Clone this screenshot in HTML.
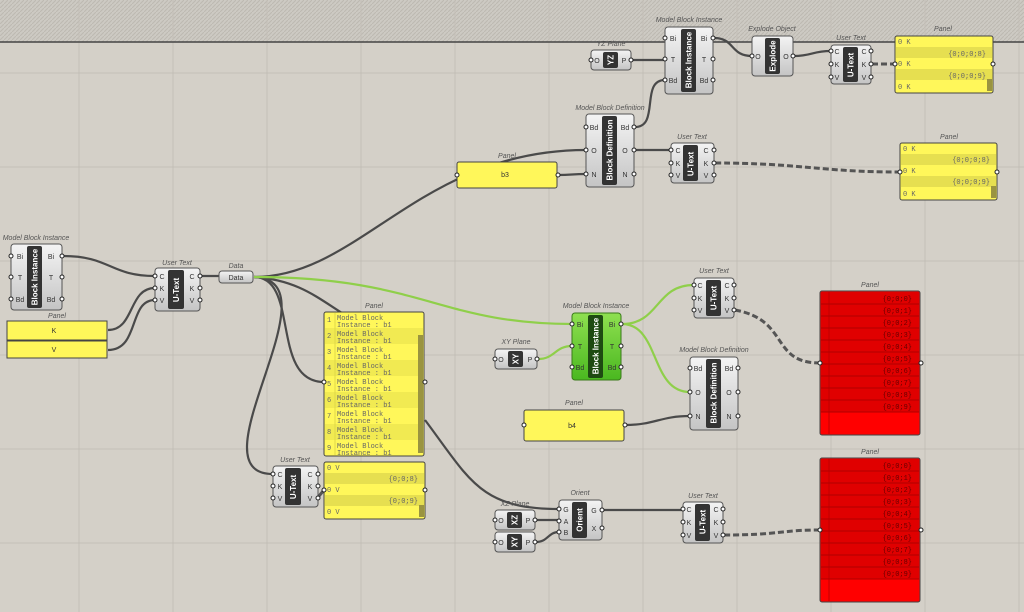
<!DOCTYPE html>
<html><head><meta charset="utf-8"><style>
html,body{margin:0;padding:0;background:#d4d0c8;}
svg{display:block;font-family:"Liberation Sans",sans-serif;}
.lb{font-size:7px;font-style:italic;fill:#555;text-anchor:middle}
.p{font-size:7px;fill:#333;text-anchor:middle}
.st{font-size:8px;font-weight:bold;fill:#fff;text-anchor:middle}
.w{fill:none;stroke:#4a4a4a;stroke-width:2.2}
.wg{fill:none;stroke:#8fcf4a;stroke-width:2.2}
.d{fill:none;stroke:#555;stroke-width:3;stroke-dasharray:6 3}
.m{font-family:"Liberation Mono",monospace;font-size:7px;fill:#666}
.r{font-family:"Liberation Mono",monospace;font-size:7px;fill:#600;text-anchor:end}
.pt{fill:#fff;stroke:#222;stroke-width:1}
</style></head><body>
<svg width="1024" height="612" viewBox="0 0 1024 612">
<defs>
<linearGradient id="g" x1="0" y1="0" x2="0" y2="1"><stop offset="0" stop-color="#f4f4f4"/><stop offset="1" stop-color="#c4c4c4"/></linearGradient>
<linearGradient id="gg" x1="0" y1="0" x2="0" y2="1"><stop offset="0" stop-color="#8fe050"/><stop offset="1" stop-color="#4ab820"/></linearGradient>
<pattern id="h" width="4" height="4" patternUnits="userSpaceOnUse"><rect width="4" height="4" fill="#cdcac3"/><path d="M0 4L4 0" stroke="#bdb9b1" stroke-width="1"/></pattern>
</defs>
<rect width="1024" height="612" fill="#d4d0c8"/>
<rect width="1024" height="42" fill="url(#h)"/>
<g stroke="#c3bfb7" stroke-width="1">
<path d="M79 0V612M173 0V612M267 0V612M361 0V612M455 0V612M549 0V612M643 0V612M737 0V612M831 0V612M925 0V612M1019 0V612"/>
<path d="M0 73H1024M0 167H1024M0 261H1024M0 355H1024M0 449H1024M0 543H1024"/>
</g>
<line x1="0" y1="42" x2="1024" y2="42" stroke="#444" stroke-width="1.5"/>

<!-- wires -->
<path class="w" d="M63 256C110 256 110 276 155 276"/>
<path class="w" d="M108 330C135 330 128 288 155 288"/>
<path class="w" d="M108 350C140 350 128 300 155 300"/>
<path class="w" d="M201 276H219"/>
<path class="w" d="M254 277C360 277 420 150 586 150"/>
<path class="w" d="M254 277C300 277 270 382 324 382"/>
<path class="w" d="M254 277C340 280 190 474 273 474"/>
<path class="w" d="M254 277C300 280 320 300 350 318"/>
<path class="wg" d="M254 277C420 277 440 324 572 324"/>
<path class="w" d="M558 175C572 175 572 174 586 174"/>
<path class="w" d="M635 127C660 127 640 80 665 80"/>
<path class="w" d="M635 150H671"/>
<path class="d" d="M715 163C800 163 820 172 900 172"/>
<path class="w" d="M632 60H665"/>
<path class="w" d="M714 38C735 38 730 56 752 56"/>
<path class="w" d="M794 56C812 56 812 51 831 51"/>
<path class="d" d="M872 64H895"/>
<path class="wg" d="M538 359C555 359 555 346 572 346"/>
<path class="wg" d="M622 324C660 324 655 285 694 285"/>
<path class="wg" d="M622 324C660 324 650 392 690 392"/>
<path class="w" d="M625 425C655 425 660 416 690 416"/>
<path class="d" d="M735 310C790 320 770 363 820 363"/>
<path class="w" d="M425 420C470 480 480 509 559 509"/>
<path class="w" d="M536 520H559"/>
<path class="w" d="M536 542C548 542 548 532 559 532"/>
<path class="w" d="M603 510H683"/>
<path class="d" d="M724 535C780 535 780 530 820 530"/>
<path class="d" d="M319 496L324 490"/>

<!-- component macro-ish: each -->
<!-- MBI left -->
<text class="lb" x="36" y="240">Model Block Instance</text>
<rect x="11" y="244" width="51" height="66" rx="3" fill="url(#g)" stroke="#555"/>
<rect x="27" y="246" width="15" height="62" rx="2" fill="#333"/>
<text class="st" transform="translate(37.5 277) rotate(-90)">Block Instance</text>
<text class="p" x="20" y="259">Bi</text><text class="p" x="20" y="280">T</text><text class="p" x="20" y="302">Bd</text>
<text class="p" x="51" y="259">Bi</text><text class="p" x="51" y="280">T</text><text class="p" x="51" y="302">Bd</text>
<g class="pt"><circle cx="11" cy="256" r="2"/><circle cx="11" cy="277" r="2"/><circle cx="11" cy="299" r="2"/><circle cx="62" cy="256" r="2"/><circle cx="62" cy="277" r="2"/><circle cx="62" cy="299" r="2"/></g>

<!-- UT1 -->
<text class="lb" x="177" y="265">User Text</text>
<rect x="155" y="268" width="45" height="43" rx="3" fill="url(#g)" stroke="#555"/>
<rect x="168" y="270" width="16" height="39" rx="2" fill="#333"/>
<text class="st" transform="translate(179 290) rotate(-90)">U-Text</text>
<text class="p" x="162" y="279">C</text><text class="p" x="162" y="291">K</text><text class="p" x="162" y="303">V</text>
<text class="p" x="192" y="279">C</text><text class="p" x="192" y="291">K</text><text class="p" x="192" y="303">V</text>
<g class="pt"><circle cx="155" cy="276" r="2"/><circle cx="155" cy="288" r="2"/><circle cx="155" cy="300" r="2"/><circle cx="200" cy="276" r="2"/><circle cx="200" cy="288" r="2"/><circle cx="200" cy="300" r="2"/></g>

<!-- Data -->
<text class="lb" x="236" y="268">Data</text>
<rect x="219" y="271" width="34" height="12" rx="3" fill="url(#g)" stroke="#555"/>
<text class="p" x="236" y="280">Data</text>

<!-- K/V panels -->
<text class="lb" x="57" y="318">Panel</text>
<rect x="7" y="321" width="100" height="19" fill="#fff75a" stroke="#444"/>
<text class="p" x="54" y="333" fill="#776">K</text>
<rect x="7" y="341" width="100" height="17" fill="#fff75a" stroke="#444"/>
<text class="p" x="54" y="352" fill="#776">V</text>

<!-- big panel -->
<text class="lb" x="374" y="308">Panel</text>
<rect x="324" y="312" width="100" height="144" rx="2" fill="#fff75a" stroke="#444"/>
<g>
<rect x="325" y="328" width="98" height="16" fill="#f1ea52"/><rect x="325" y="360" width="98" height="16" fill="#f1ea52"/><rect x="325" y="392" width="98" height="16" fill="#f1ea52"/><rect x="325" y="424" width="98" height="16" fill="#f1ea52"/>
<line x1="335" y1="313" x2="335" y2="455" stroke="#e0d848"/>
<rect x="418" y="335" width="5" height="118" fill="#9a9440"/>
</g>
<g class="m">
<text x="327" y="322">1</text><text x="337" y="320">Model Block</text><text x="337" y="327">Instance : b1</text>
<text x="327" y="338">2</text><text x="337" y="336">Model Block</text><text x="337" y="343">Instance : b1</text>
<text x="327" y="354">3</text><text x="337" y="352">Model Block</text><text x="337" y="359">Instance : b1</text>
<text x="327" y="370">4</text><text x="337" y="368">Model Block</text><text x="337" y="375">Instance : b1</text>
<text x="327" y="386">5</text><text x="337" y="384">Model Block</text><text x="337" y="391">Instance : b1</text>
<text x="327" y="402">6</text><text x="337" y="400">Model Block</text><text x="337" y="407">Instance : b1</text>
<text x="327" y="418">7</text><text x="337" y="416">Model Block</text><text x="337" y="423">Instance : b1</text>
<text x="327" y="434">8</text><text x="337" y="432">Model Block</text><text x="337" y="439">Instance : b1</text>
<text x="327" y="450">9</text><text x="337" y="448">Model Block</text><text x="337" y="455">Instance : b1</text>
</g>
<g class="pt"><circle cx="324" cy="382" r="2"/><circle cx="425" cy="382" r="2"/></g>

<!-- UT left bottom -->
<text class="lb" x="295" y="462">User Text</text>
<rect x="273" y="466" width="45" height="41" rx="3" fill="url(#g)" stroke="#555"/>
<rect x="285" y="468" width="16" height="37" rx="2" fill="#333"/>
<text class="st" transform="translate(296 487) rotate(-90)">U-Text</text>
<text class="p" x="280" y="477">C</text><text class="p" x="280" y="489">K</text><text class="p" x="280" y="501">V</text>
<text class="p" x="310" y="477">C</text><text class="p" x="310" y="489">K</text><text class="p" x="310" y="501">V</text>
<g class="pt"><circle cx="273" cy="474" r="2"/><circle cx="273" cy="486" r="2"/><circle cx="273" cy="498" r="2"/><circle cx="318" cy="474" r="2"/><circle cx="318" cy="486" r="2"/><circle cx="318" cy="498" r="2"/></g>
<!-- panel V -->
<rect x="324" y="462" width="101" height="57" rx="2" fill="#fff75a" stroke="#444"/>
<rect x="325" y="473" width="99" height="11" fill="#e6df50"/><rect x="325" y="495" width="99" height="11" fill="#e6df50"/>
<rect x="419" y="505" width="5" height="12" fill="#9a9440"/>
<g class="m"><text x="327" y="470">0 V</text><text x="418" y="481" text-anchor="end">{0;0;8}</text><text x="327" y="492">0 V</text><text x="418" y="503" text-anchor="end">{0;0;9}</text><text x="327" y="514">0 V</text></g>
<g class="pt"><circle cx="324" cy="490" r="2"/><circle cx="425" cy="490" r="2"/></g>

<!-- b3 -->
<text class="lb" x="507" y="158">Panel</text>
<rect x="457" y="162" width="100" height="26" rx="2" fill="#fff75a" stroke="#444"/>
<text class="p" x="505" y="177" fill="#776">b3</text>
<g class="pt"><circle cx="457" cy="175" r="2"/><circle cx="558" cy="175" r="2"/></g>

<!-- MBD top -->
<text class="lb" x="610" y="110">Model Block Definition</text>
<rect x="586" y="114" width="48" height="73" rx="3" fill="url(#g)" stroke="#555"/>
<rect x="602" y="116" width="15" height="69" rx="2" fill="#333"/>
<text class="st" transform="translate(612.5 150) rotate(-90)">Block Definition</text>
<text class="p" x="594" y="130">Bd</text><text class="p" x="594" y="153">O</text><text class="p" x="594" y="177">N</text>
<text class="p" x="625" y="130">Bd</text><text class="p" x="625" y="153">O</text><text class="p" x="625" y="177">N</text>
<g class="pt"><circle cx="586" cy="127" r="2"/><circle cx="586" cy="150" r="2"/><circle cx="586" cy="174" r="2"/><circle cx="634" cy="127" r="2"/><circle cx="634" cy="150" r="2"/><circle cx="634" cy="174" r="2"/></g>

<!-- UT top2 -->
<text class="lb" x="692" y="139">User Text</text>
<rect x="671" y="143" width="43" height="40" rx="3" fill="url(#g)" stroke="#555"/>
<rect x="683" y="145" width="15" height="36" rx="2" fill="#333"/>
<text class="st" transform="translate(693.5 164) rotate(-90)">U-Text</text>
<text class="p" x="678" y="153">C</text><text class="p" x="678" y="166">K</text><text class="p" x="678" y="178">V</text>
<text class="p" x="706" y="153">C</text><text class="p" x="706" y="166">K</text><text class="p" x="706" y="178">V</text>
<g class="pt"><circle cx="671" cy="150" r="2"/><circle cx="671" cy="163" r="2"/><circle cx="671" cy="175" r="2"/><circle cx="714" cy="150" r="2"/><circle cx="714" cy="163" r="2"/><circle cx="714" cy="175" r="2"/></g>

<!-- Panel top2 -->
<text class="lb" x="949" y="139">Panel</text>
<rect x="900" y="143" width="97" height="57" rx="2" fill="#fff75a" stroke="#444"/>
<rect x="901" y="154" width="95" height="11" fill="#e6df50"/><rect x="901" y="176" width="95" height="11" fill="#e6df50"/>
<rect x="991" y="186" width="5" height="12" fill="#9a9440"/>
<g class="m"><text x="903" y="151">0 K</text><text x="990" y="162" text-anchor="end">{0;0;0;8}</text><text x="903" y="173">0 K</text><text x="990" y="184" text-anchor="end">{0;0;0;9}</text><text x="903" y="196">0 K</text></g>
<g class="pt"><circle cx="900" cy="172" r="2"/><circle cx="997" cy="172" r="2"/></g>

<!-- YZ -->
<text class="lb" x="611" y="46">YZ Plane</text>
<rect x="591" y="50" width="40" height="20" rx="3" fill="url(#g)" stroke="#555"/>
<rect x="603" y="52" width="15" height="16" rx="2" fill="#333"/>
<text class="st" transform="translate(613.5 60) rotate(-90)">YZ</text>
<text class="p" x="597" y="63">O</text><text class="p" x="624" y="63">P</text>
<g class="pt"><circle cx="591" cy="60" r="2"/><circle cx="631" cy="60" r="2"/></g>

<!-- MBI top -->
<text class="lb" x="689" y="22">Model Block Instance</text>
<rect x="665" y="27" width="48" height="67" rx="3" fill="url(#g)" stroke="#555"/>
<rect x="681" y="29" width="15" height="63" rx="2" fill="#333"/>
<text class="st" transform="translate(691.5 60) rotate(-90)">Block Instance</text>
<text class="p" x="673" y="41">Bi</text><text class="p" x="673" y="62">T</text><text class="p" x="673" y="83">Bd</text>
<text class="p" x="704" y="41">Bi</text><text class="p" x="704" y="62">T</text><text class="p" x="704" y="83">Bd</text>
<g class="pt"><circle cx="665" cy="38" r="2"/><circle cx="665" cy="59" r="2"/><circle cx="665" cy="80" r="2"/><circle cx="713" cy="38" r="2"/><circle cx="713" cy="59" r="2"/><circle cx="713" cy="80" r="2"/></g>

<!-- Explode -->
<text class="lb" x="772" y="31">Explode Object</text>
<rect x="752" y="36" width="41" height="40" rx="3" fill="url(#g)" stroke="#555"/>
<rect x="765" y="38" width="15" height="36" rx="2" fill="#333"/>
<text class="st" transform="translate(775.5 56) rotate(-90)">Explode</text>
<text class="p" x="758" y="59">O</text><text class="p" x="786" y="59">O</text>
<g class="pt"><circle cx="752" cy="56" r="2"/><circle cx="793" cy="56" r="2"/></g>

<!-- UT top -->
<text class="lb" x="851" y="40">User Text</text>
<rect x="831" y="45" width="40" height="39" rx="3" fill="url(#g)" stroke="#555"/>
<rect x="843" y="47" width="15" height="35" rx="2" fill="#333"/>
<text class="st" transform="translate(853.5 65) rotate(-90)">U-Text</text>
<text class="p" x="837" y="54">C</text><text class="p" x="837" y="67">K</text><text class="p" x="837" y="80">V</text>
<text class="p" x="864" y="54">C</text><text class="p" x="864" y="67">K</text><text class="p" x="864" y="80">V</text>
<g class="pt"><circle cx="831" cy="51" r="2"/><circle cx="831" cy="64" r="2"/><circle cx="831" cy="77" r="2"/><circle cx="871" cy="51" r="2"/><circle cx="871" cy="64" r="2"/><circle cx="871" cy="77" r="2"/></g>

<!-- Panel top -->
<text class="lb" x="943" y="31">Panel</text>
<rect x="895" y="36" width="98" height="57" rx="2" fill="#fff75a" stroke="#444"/>
<rect x="896" y="47" width="96" height="11" fill="#e6df50"/><rect x="896" y="69" width="96" height="11" fill="#e6df50"/>
<rect x="987" y="79" width="5" height="12" fill="#9a9440"/>
<g class="m"><text x="898" y="44">0 K</text><text x="986" y="56" text-anchor="end">{0;0;0;8}</text><text x="898" y="66">0 K</text><text x="986" y="78" text-anchor="end">{0;0;0;9}</text><text x="898" y="89">0 K</text></g>
<g class="pt"><circle cx="895" cy="64" r="2"/><circle cx="993" cy="64" r="2"/></g>

<!-- MBI green -->
<text class="lb" x="596" y="308">Model Block Instance</text>
<rect x="572" y="313" width="49" height="67" rx="3" fill="url(#gg)" stroke="#3a7a1a"/>
<rect x="588" y="315" width="15" height="63" rx="2" fill="#1e4a12"/>
<text class="st" transform="translate(598.5 346) rotate(-90)">Block Instance</text>
<text class="p" x="580" y="327">Bi</text><text class="p" x="580" y="349">T</text><text class="p" x="580" y="370">Bd</text>
<text class="p" x="612" y="327">Bi</text><text class="p" x="612" y="349">T</text><text class="p" x="612" y="370">Bd</text>
<g class="pt"><circle cx="572" cy="324" r="2"/><circle cx="572" cy="346" r="2"/><circle cx="572" cy="367" r="2"/><circle cx="621" cy="324" r="2"/><circle cx="621" cy="346" r="2"/><circle cx="621" cy="367" r="2"/></g>

<!-- XY plane -->
<text class="lb" x="516" y="344">XY Plane</text>
<rect x="495" y="349" width="42" height="20" rx="3" fill="url(#g)" stroke="#555"/>
<rect x="508" y="351" width="15" height="16" rx="2" fill="#333"/>
<text class="st" transform="translate(518.5 359) rotate(-90)">XY</text>
<text class="p" x="501" y="362">O</text><text class="p" x="530" y="362">P</text>
<g class="pt"><circle cx="495" cy="359" r="2"/><circle cx="537" cy="359" r="2"/></g>

<!-- UT right -->
<text class="lb" x="714" y="273">User Text</text>
<rect x="694" y="278" width="40" height="40" rx="3" fill="url(#g)" stroke="#555"/>
<rect x="706" y="280" width="15" height="36" rx="2" fill="#333"/>
<text class="st" transform="translate(716.5 298) rotate(-90)">U-Text</text>
<text class="p" x="700" y="288">C</text><text class="p" x="700" y="301">K</text><text class="p" x="700" y="313">V</text>
<text class="p" x="727" y="288">C</text><text class="p" x="727" y="301">K</text><text class="p" x="727" y="313">V</text>
<g class="pt"><circle cx="694" cy="285" r="2"/><circle cx="694" cy="298" r="2"/><circle cx="694" cy="310" r="2"/><circle cx="734" cy="285" r="2"/><circle cx="734" cy="298" r="2"/><circle cx="734" cy="310" r="2"/></g>

<!-- MBD right -->
<text class="lb" x="714" y="352">Model Block Definition</text>
<rect x="690" y="357" width="48" height="73" rx="3" fill="url(#g)" stroke="#555"/>
<rect x="706" y="359" width="15" height="69" rx="2" fill="#333"/>
<text class="st" transform="translate(716.5 393) rotate(-90)">Block Definition</text>
<text class="p" x="698" y="371">Bd</text><text class="p" x="698" y="395">O</text><text class="p" x="698" y="419">N</text>
<text class="p" x="729" y="371">Bd</text><text class="p" x="729" y="395">O</text><text class="p" x="729" y="419">N</text>
<g class="pt"><circle cx="690" cy="368" r="2"/><circle cx="690" cy="392" r="2"/><circle cx="690" cy="416" r="2"/><circle cx="738" cy="368" r="2"/><circle cx="738" cy="392" r="2"/><circle cx="738" cy="416" r="2"/></g>

<!-- b4 -->
<text class="lb" x="574" y="405">Panel</text>
<rect x="524" y="410" width="100" height="31" rx="2" fill="#fff75a" stroke="#444"/>
<text class="p" x="572" y="428" fill="#776">b4</text>
<g class="pt"><circle cx="524" cy="425" r="2"/><circle cx="625" cy="425" r="2"/></g>

<!-- red panels -->
<text class="lb" x="870" y="287">Panel</text>
<rect x="820" y="291" width="100" height="144" rx="2" fill="#ff0000" stroke="#444"/>
<rect x="821" y="292" width="98" height="120" fill="#e00000"/>
<line x1="829" y1="292" x2="829" y2="434" stroke="#c00000"/>
<g stroke="#b00000"><path d="M821 304H919M821 316H919M821 328H919M821 340H919M821 352H919M821 364H919M821 376H919M821 388H919M821 400H919M821 412H919"/></g>
<g class="r"><text x="912" y="301">{0;0;0}</text><text x="912" y="313">{0;0;1}</text><text x="912" y="325">{0;0;2}</text><text x="912" y="337">{0;0;3}</text><text x="912" y="349">{0;0;4}</text><text x="912" y="361">{0;0;5}</text><text x="912" y="373">{0;0;6}</text><text x="912" y="385">{0;0;7}</text><text x="912" y="397">{0;0;8}</text><text x="912" y="409">{0;0;9}</text></g>
<g class="pt"><circle cx="820" cy="363" r="2"/><circle cx="921" cy="363" r="2"/></g>

<text class="lb" x="870" y="454">Panel</text>
<rect x="820" y="458" width="100" height="144" rx="2" fill="#ff0000" stroke="#444"/>
<rect x="821" y="459" width="98" height="120" fill="#e00000"/>
<line x1="829" y1="459" x2="829" y2="601" stroke="#c00000"/>
<g stroke="#b00000"><path d="M821 471H919M821 483H919M821 495H919M821 507H919M821 519H919M821 531H919M821 543H919M821 555H919M821 567H919M821 579H919"/></g>
<g class="r"><text x="912" y="468">{0;0;0}</text><text x="912" y="480">{0;0;1}</text><text x="912" y="492">{0;0;2}</text><text x="912" y="504">{0;0;3}</text><text x="912" y="516">{0;0;4}</text><text x="912" y="528">{0;0;5}</text><text x="912" y="540">{0;0;6}</text><text x="912" y="552">{0;0;7}</text><text x="912" y="564">{0;0;8}</text><text x="912" y="576">{0;0;9}</text></g>
<g class="pt"><circle cx="820" cy="530" r="2"/><circle cx="921" cy="530" r="2"/></g>

<!-- Orient -->
<text class="lb" x="580" y="495">Orient</text>
<rect x="559" y="500" width="43" height="40" rx="3" fill="url(#g)" stroke="#555"/>
<rect x="572" y="502" width="15" height="36" rx="2" fill="#333"/>
<text class="st" transform="translate(582.5 520) rotate(-90)">Orient</text>
<text class="p" x="566" y="512">G</text><text class="p" x="566" y="524">A</text><text class="p" x="566" y="535">B</text>
<text class="p" x="594" y="513">G</text><text class="p" x="594" y="531">X</text>
<g class="pt"><circle cx="559" cy="509" r="2"/><circle cx="559" cy="521" r="2"/><circle cx="559" cy="532" r="2"/><circle cx="602" cy="510" r="2"/><circle cx="602" cy="528" r="2"/></g>

<!-- XZ / XY2 -->
<text class="lb" x="515" y="506">XZ Plane</text>
<rect x="495" y="510" width="40" height="20" rx="3" fill="url(#g)" stroke="#555"/>
<rect x="507" y="512" width="15" height="16" rx="2" fill="#333"/>
<text class="st" transform="translate(517.5 520) rotate(-90)">XZ</text>
<text class="p" x="501" y="523">O</text><text class="p" x="528" y="523">P</text>
<g class="pt"><circle cx="495" cy="520" r="2"/><circle cx="535" cy="520" r="2"/></g>
<rect x="495" y="532" width="40" height="20" rx="3" fill="url(#g)" stroke="#555"/>
<rect x="507" y="534" width="15" height="16" rx="2" fill="#333"/>
<text class="st" transform="translate(517.5 542) rotate(-90)">XY</text>
<text class="p" x="501" y="545">O</text><text class="p" x="528" y="545">P</text>
<g class="pt"><circle cx="495" cy="542" r="2"/><circle cx="535" cy="542" r="2"/></g>

<!-- UT bottom -->
<text class="lb" x="703" y="498">User Text</text>
<rect x="683" y="502" width="40" height="41" rx="3" fill="url(#g)" stroke="#555"/>
<rect x="695" y="504" width="15" height="37" rx="2" fill="#333"/>
<text class="st" transform="translate(705.5 522) rotate(-90)">U-Text</text>
<text class="p" x="689" y="512">C</text><text class="p" x="689" y="525">K</text><text class="p" x="689" y="538">V</text>
<text class="p" x="716" y="512">C</text><text class="p" x="716" y="525">K</text><text class="p" x="716" y="538">V</text>
<g class="pt"><circle cx="683" cy="509" r="2"/><circle cx="683" cy="522" r="2"/><circle cx="683" cy="535" r="2"/><circle cx="723" cy="509" r="2"/><circle cx="723" cy="522" r="2"/><circle cx="723" cy="535" r="2"/></g>
</svg>
</body></html>
